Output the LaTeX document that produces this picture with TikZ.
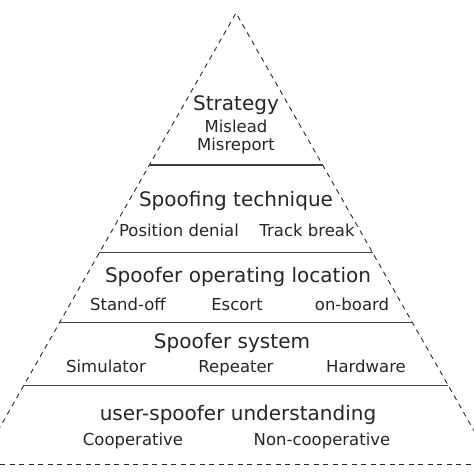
\documentclass[tikz,border=0pt]{standalone}
\usepackage{fontspec}
\setmainfont{DejaVu Sans}
\usetikzlibrary{calc}
\begin{document}
\begin{tikzpicture}[x=1pt, y=-1pt,
    title/.style={font=\fontsize{20}{24}\selectfont, inner sep=0pt, anchor=base, text=black!85},
    item/.style={font=\fontsize{16.5}{20}\selectfont, inner sep=0pt, anchor=base, text=black!85},
    side/.style={dash pattern=on 5pt off 4.5pt, line width=0.9pt, black!85},
    layer/.style={line width=1.1pt, black!75}]
    \clip (0, 0) rectangle (474, 474);

    % Corners of the pyramid and the ground line
    \coordinate (apex) at (236, 13);
    \coordinate (bl) at (-21, 464);
    \coordinate (br) at (493, 464);
    \coordinate (gl) at (0, 464);
    \coordinate (gr) at (474, 464);

    % Layer borders on the sides
    \coordinate (l1) at ($(apex)!0.337!(bl)$);
    \coordinate (r1) at ($(apex)!0.337!(br)$);
    \coordinate (l2) at ($(apex)!0.532!(bl)$);
    \coordinate (r2) at ($(apex)!0.532!(br)$);
    \coordinate (l3) at ($(apex)!0.687!(bl)$);
    \coordinate (r3) at ($(apex)!0.687!(br)$);
    \coordinate (l4) at ($(apex)!0.825!(bl)$);
    \coordinate (r4) at ($(apex)!0.825!(br)$);

    % Nodes
    \node[title] at (236, 110) (strategy) {Strategy};
    \node[item] at (236, 132) (mislead) {Mislead};
    \node[item] at (236, 150) (misreport) {Misreport};

    \node[title] at (236, 206) (technique) {Spoofing technique};
    \node[item] at (179, 236) (denial) {Position denial};
    \node[item] at (307, 236) (break) {Track break};

    \node[title] at (238, 282) (location) {Spoofer operating location};
    \node[item] at (128, 310) (standoff) {Stand-off};
    \node[item] at (237, 310) (escort) {Escort};
    \node[item] at (352, 310) (onboard) {on-board};

    \node[title] at (232, 348) (system) {Spoofer system};
    \node[item] at (106, 372) (simulator) {Simulator};
    \node[item] at (236, 372) (repeater) {Repeater};
    \node[item] at (366, 372) (hardware) {Hardware};

    \node[title] at (238, 420) (understanding) {user-spoofer understanding};
    \node[item] at (133, 445) (coop) {Cooperative};
    \node[item] at (322, 445) (noncoop) {Non-cooperative};

    % Outline
    \draw[side] (bl) -- (apex) -- (br);
    \draw[side] (gl) -- (gr);

    \draw[layer] (l1) -- (r1);
    \draw[layer] (l2) -- (r2);
    \draw[layer] (l3) -- (r3);
    \draw[layer] (l4) -- (r4);

  \end{tikzpicture}
\end{document}
